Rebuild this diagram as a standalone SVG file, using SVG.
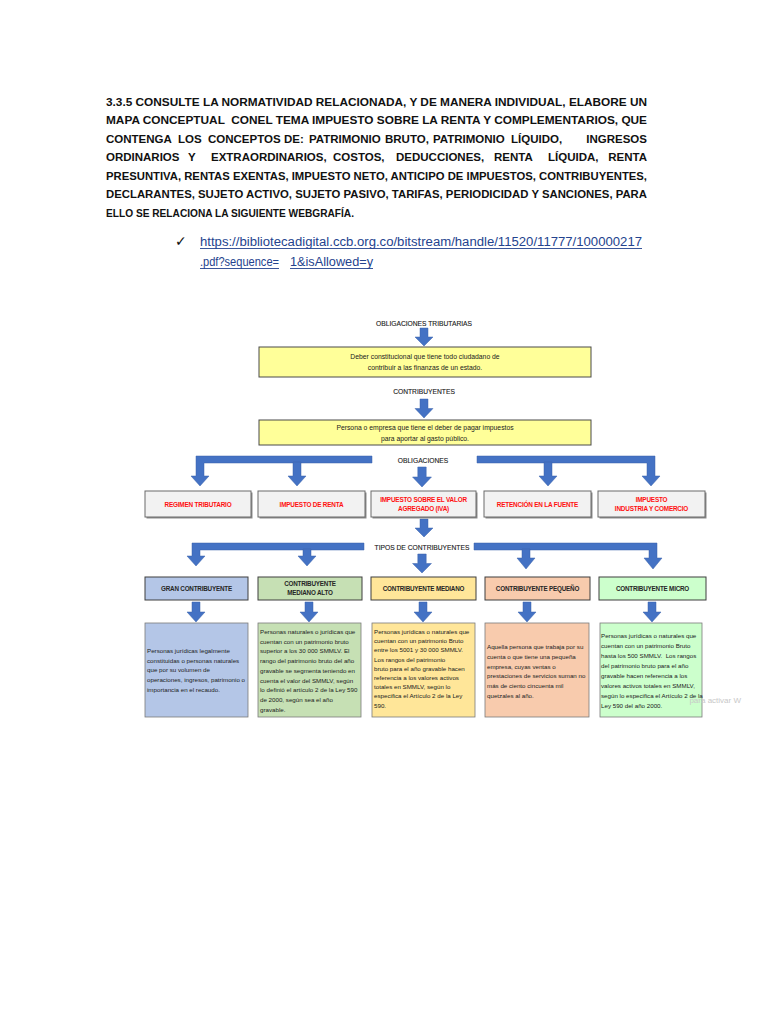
<svg xmlns="http://www.w3.org/2000/svg" xmlns:xlink="http://www.w3.org/1999/xlink" width="768" height="1024" viewBox="0 0 768 1024">
<style>
.hd{font-family:"Liberation Sans",Arial,sans-serif;font-weight:bold;font-size:11.5px;fill:#111}
.lk{font-family:"Liberation Sans",Arial,sans-serif;font-size:12.5px;fill:#24438E}
.lab{font-family:"Liberation Sans",Arial,sans-serif;font-size:6.7px;fill:#1a1a1a;text-anchor:middle;stroke:#1a1a1a;stroke-width:0.12}
.yt{font-family:"Liberation Sans",Arial,sans-serif;font-size:6.8px;fill:#222;text-anchor:middle}
.rt{font-family:"Liberation Sans",Arial,sans-serif;font-size:6.4px;font-weight:bold;fill:#FF1010;text-anchor:middle;letter-spacing:-0.2px}
.ct{font-family:"Liberation Sans",Arial,sans-serif;font-size:6.3px;font-weight:bold;fill:#262626;text-anchor:middle;letter-spacing:-0.2px}
.bt{font-family:"Liberation Sans",Arial,sans-serif;font-size:6.2px;fill:#222}
.ybox{fill:#FFFF99;stroke:#4a4a4a;stroke-width:1}
.gbox{fill:#F2F2F2;stroke:#6a6a6a;stroke-width:1}
.shadow{fill:#8c8c8c}
.cbox{stroke:#3f3f3f;stroke-width:1}
.tbox{stroke:#7a7a7a;stroke-width:0.8}
.arr{fill:#4472C4;stroke:#3A62AA;stroke-width:0.5}
.ul{stroke:#24438E;stroke-width:0.9}
</style>
<defs>
<path id="arrowDown" d="M-4,0 H4 V10 H9 L0,20 L-9,10 H-4 Z"/>
</defs>
<rect width="768" height="1024" fill="#ffffff"/>

<g id="header">
<text class="hd" x="106" y="105.5" textLength="541" lengthAdjust="spacingAndGlyphs">3.3.5 CONSULTE LA NORMATIVIDAD RELACIONADA, Y DE MANERA INDIVIDUAL, ELABORE UN</text>
<text class="hd" x="106" y="124" textLength="541" lengthAdjust="spacingAndGlyphs" xml:space="preserve">MAPA CONCEPTUAL  CONEL TEMA IMPUESTO SOBRE LA RENTA Y COMPLEMENTARIOS, QUE</text>
<text class="hd" y="142.5"><tspan x="106">CONTENGA</tspan><tspan x="178">LOS</tspan><tspan x="208">CONCEPTOS</tspan><tspan x="284">DE:</tspan><tspan x="309">PATRIMONIO</tspan><tspan x="385">BRUTO,</tspan><tspan x="433">PATRIMONIO</tspan><tspan x="511">LÍQUIDO,</tspan></text>
<text class="hd" x="647" y="142.5" text-anchor="end">INGRESOS</text>
<text class="hd" y="161"><tspan x="106">ORDINARIOS</tspan><tspan x="188">Y</tspan><tspan x="211">EXTRAORDINARIOS,</tspan><tspan x="333">COSTOS,</tspan><tspan x="396">DEDUCCIONES,</tspan><tspan x="494">RENTA</tspan><tspan x="548">LÍQUIDA,</tspan></text>
<text class="hd" x="647" y="161" text-anchor="end">RENTA</text>
<text class="hd" x="106" y="179.5" textLength="541" lengthAdjust="spacingAndGlyphs">PRESUNTIVA, RENTAS EXENTAS, IMPUESTO NETO, ANTICIPO DE IMPUESTOS, CONTRIBUYENTES,</text>
<text class="hd" x="106" y="198" textLength="541" lengthAdjust="spacingAndGlyphs">DECLARANTES, SUJETO ACTIVO, SUJETO PASIVO, TARIFAS, PERIODICIDAD Y SANCIONES, PARA</text>
<text class="hd" x="106" y="216.5" textLength="248" lengthAdjust="spacingAndGlyphs">ELLO SE RELACIONA LA SIGUIENTE WEBGRAFÍA.</text>
</g>

<g id="link">
<text x="175" y="246" font-family="'DejaVu Sans',sans-serif" font-size="14" font-weight="bold" fill="#111">✓</text>
<text class="lk" x="200" y="246" textLength="442" lengthAdjust="spacingAndGlyphs">https://bibliotecadigital.ccb.org.co/bitstream/handle/11520/11777/100000217</text>
<text class="lk" x="200" y="266" textLength="79" lengthAdjust="spacingAndGlyphs">.pdf?sequence=</text>
<text class="lk" x="290" y="266" textLength="83" lengthAdjust="spacingAndGlyphs">1&amp;isAllowed=y</text>
<line class="ul" x1="200" y1="248.5" x2="642" y2="248.5"/>
<line class="ul" x1="200" y1="268.5" x2="279" y2="268.5"/>
<line class="ul" x1="290" y1="268.5" x2="373" y2="268.5"/>
</g>

<g id="connectors">
<use href="#arrowDown" class="arr" transform="translate(424,328) scale(1,0.9)"/>
<use href="#arrowDown" class="arr" transform="translate(424,399) scale(1,0.95)"/>
<use href="#arrowDown" class="arr" transform="translate(422,467) scale(1.05,1)"/>
<use href="#arrowDown" class="arr" transform="translate(424,519) scale(1,0.9)"/>
<use href="#arrowDown" class="arr" transform="translate(422,554) scale(1.05,0.95)"/>
<path class="arr" d="M372,456 H196 V476 H191 L200,486 L209,476 H204 V463 H372 Z"/>
<path class="arr" d="M293,462 V476 H288 L297,486 L306,476 H301 V462 Z"/>
<path class="arr" d="M477,456 H655 V476 H660 L651,486 L642,476 H647 V463 H477 Z"/>
<path class="arr" d="M544,462 V476 H539 L548,486 L557,476 H552 V462 Z"/>
<path class="arr" d="M364,543 H192 V556 H187 L196,566 L205,556 H200 V550 H364 Z"/>
<path class="arr" d="M303,549 V556 H298 L307,566 L316,556 H311 V549 Z"/>
<path class="arr" d="M474,543 H657 V558 H662 L653,569 L644,558 H649 V550 H474 Z"/>
<path class="arr" d="M522,549 V558 H517 L526,569 L535,558 H530 V549 Z"/>
<use href="#arrowDown" class="arr" transform="translate(196,602)"/>
<use href="#arrowDown" class="arr" transform="translate(309,602)"/>
<use href="#arrowDown" class="arr" transform="translate(423,602)"/>
<use href="#arrowDown" class="arr" transform="translate(527,602)"/>
<use href="#arrowDown" class="arr" transform="translate(652,602)"/>
</g>

<g id="lbl-obligaciones-tributarias"><text class="lab" x="424" y="326">OBLIGACIONES TRIBUTARIAS</text></g>
<g id="box-deber">
<rect class="ybox" x="259" y="347" width="332" height="30"/>
<text class="yt" x="425" y="358.5">Deber constitucional que tiene todo ciudadano de</text>
<text class="yt" x="425" y="369.5">contribuir a las finanzas de un estado.</text>
</g>
<g id="lbl-contribuyentes"><text class="lab" x="424" y="394">CONTRIBUYENTES</text></g>
<g id="box-persona">
<rect class="ybox" x="259" y="420" width="332" height="25"/>
<text class="yt" x="425" y="429.5">Persona o empresa que tiene el deber de pagar impuestos</text>
<text class="yt" x="425" y="440.5">para aportar al gasto público.</text>
</g>
<g id="lbl-obligaciones"><text class="lab" x="423" y="463">OBLIGACIONES</text></g>

<g id="ob-regimen">
<rect class="shadow" x="146.5" y="492.5" width="106" height="26"/>
<rect class="gbox" x="145" y="491" width="106" height="26"/>
<text class="rt" x="198" y="506.5">REGIMEN TRIBUTARIO</text>
</g>
<g id="ob-renta">
<rect class="shadow" x="259.5" y="492.5" width="107" height="26"/>
<rect class="gbox" x="258" y="491" width="107" height="26"/>
<text class="rt" x="311.5" y="506.5">IMPUESTO DE RENTA</text>
</g>
<g id="ob-iva">
<rect class="shadow" x="372.5" y="492.5" width="105" height="26"/>
<rect class="gbox" x="371" y="491" width="105" height="26"/>
<text class="rt" x="423.5" y="501.5">IMPUESTO SOBRE EL VALOR</text>
<text class="rt" x="423.5" y="511">AGREGADO (IVA)</text>
</g>
<g id="ob-retencion">
<rect class="shadow" x="485.5" y="492.5" width="107" height="26"/>
<rect class="gbox" x="484" y="491" width="107" height="26"/>
<text class="rt" x="537.5" y="506.5">RETENCIÓN EN LA FUENTE</text>
</g>
<g id="ob-ica">
<rect class="shadow" x="599.5" y="492.5" width="107" height="26"/>
<rect class="gbox" x="598" y="491" width="107" height="26"/>
<text class="rt" x="651.5" y="501.5">IMPUESTO</text>
<text class="rt" x="651.5" y="511">INDUSTRIA Y COMERCIO</text>
</g>

<g id="lbl-tipos"><text class="lab" x="422" y="550">TIPOS DE CONTRIBUYENTES</text></g>

<g id="tipo-gran">
<rect class="cbox" x="145" y="577" width="103" height="23" fill="#B4C6E7"/>
<text class="ct" x="196.5" y="590.5">GRAN CONTRIBUYENTE</text>
</g>
<g id="tipo-mediano-alto">
<rect class="cbox" x="258" y="577" width="104" height="23" fill="#C6E0B4"/>
<text class="ct" x="310" y="586">CONTRIBUYENTE</text>
<text class="ct" x="310" y="595">MEDIANO ALTO</text>
</g>
<g id="tipo-mediano">
<rect class="cbox" x="371" y="577" width="105" height="23" fill="#FFE699"/>
<text class="ct" x="423.5" y="590.5">CONTRIBUYENTE MEDIANO</text>
</g>
<g id="tipo-pequeno">
<rect class="cbox" x="485" y="577" width="105" height="23" fill="#F8CBAD"/>
<text class="ct" x="537.5" y="590.5">CONTRIBUYENTE PEQUEÑO</text>
</g>
<g id="tipo-micro">
<rect class="cbox" x="599" y="577" width="107" height="23" fill="#CCFFCC"/>
<text class="ct" x="652.5" y="590.5">CONTRIBUYENTE MICRO</text>
</g>

<g id="desc-gran">
<rect class="tbox" x="145" y="623" width="103" height="94" fill="#B4C6E7"/>
<text class="bt" x="147" y="653"><tspan x="147">Personas jurídicas legalmente</tspan><tspan x="147" dy="9.7">constituidas o personas naturales</tspan><tspan x="147" dy="9.7">que por su volumen de</tspan><tspan x="147" dy="9.7">operaciones, ingresos, patrimonio o</tspan><tspan x="147" dy="9.7">importancia en el recaudo.</tspan></text>
</g>
<g id="desc-mediano-alto">
<rect class="tbox" x="258" y="623" width="103" height="94" fill="#C6E0B4"/>
<text class="bt" x="260" y="634"><tspan x="260">Personas naturales o jurídicas que</tspan><tspan x="260" dy="9.7">cuentan con un patrimonio bruto</tspan><tspan x="260" dy="9.7">superior a los 30 000 SMMLV. El</tspan><tspan x="260" dy="9.7">rango del patrimonio bruto del año</tspan><tspan x="260" dy="9.7">gravable se segmenta teniendo en</tspan><tspan x="260" dy="9.7">cuenta el valor del SMMLV, según</tspan><tspan x="260" dy="9.7">lo definió el artículo 2 de la Ley 590</tspan><tspan x="260" dy="9.7">de 2000, según sea el año</tspan><tspan x="260" dy="9.7">gravable.</tspan></text>
</g>
<g id="desc-mediano">
<rect class="tbox" x="372" y="623" width="103" height="94" fill="#FFE699"/>
<text class="bt" x="374" y="634"><tspan x="374">Personas jurídicas o naturales que</tspan><tspan x="374" dy="9.2">cuentan con un patrimonio Bruto</tspan><tspan x="374" dy="9.2">entre los 5001 y 30 000 SMMLV.</tspan><tspan x="374" dy="9.2">Los rangos del patrimonio</tspan><tspan x="374" dy="9.2">bruto para el año gravable hacen</tspan><tspan x="374" dy="9.2">referencia a los valores activos</tspan><tspan x="374" dy="9.2">totales en SMMLV, según lo</tspan><tspan x="374" dy="9.2">especifica el Artículo 2 de la Ley</tspan><tspan x="374" dy="9.2">590.</tspan></text>
</g>
<g id="desc-pequeno">
<rect class="tbox" x="485" y="623" width="104" height="94" fill="#F8CBAD"/>
<text class="bt" x="487" y="649"><tspan x="487">Aquella persona que trabaja por su</tspan><tspan x="487" dy="9.8">cuenta o que tiene una pequeña</tspan><tspan x="487" dy="9.8">empresa, cuyas ventas o</tspan><tspan x="487" dy="9.8">prestaciones de servicios suman no</tspan><tspan x="487" dy="9.8">más de ciento cincuenta mil</tspan><tspan x="487" dy="9.8">quetzales al año.</tspan></text>
</g>
<g id="desc-micro">
<rect class="tbox" x="600" y="623" width="102" height="94" fill="#CCFFCC"/>
<text class="bt" x="601" y="638"><tspan x="601">Personas jurídicas o naturales que</tspan><tspan x="601" dy="10">cuentan con un patrimonio Bruto</tspan><tspan x="601" dy="10" xml:space="preserve">hasta los 500 SMMLV.  Los rangos</tspan><tspan x="601" dy="10">del patrimonio bruto para el año</tspan><tspan x="601" dy="10">gravable hacen referencia a los</tspan><tspan x="601" dy="10">valores activos totales en SMMLV,</tspan><tspan x="601" dy="10">según lo especifica el Artículo 2 de la</tspan><tspan x="601" dy="10">Ley 590 del año 2000.</tspan></text>
</g>

<text x="741" y="703" text-anchor="end" font-family="'Liberation Sans',Arial,sans-serif" font-size="8" fill="#c8c8c8">para activar W</text>
</svg>
